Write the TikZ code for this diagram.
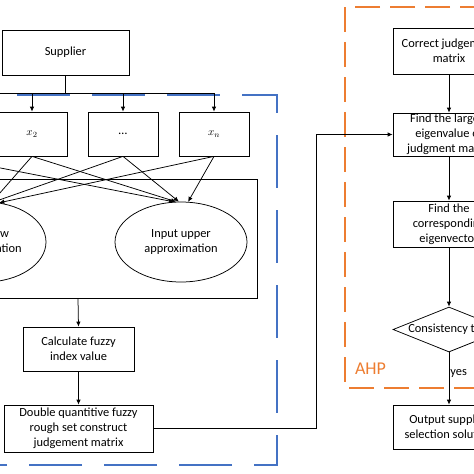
\documentclass[tikz,border=0pt]{standalone}
\usepackage{fontspec}
\setmainfont{Carlito}
\usetikzlibrary{shapes.geometric,arrows.meta}
\definecolor{ahporange}{RGB}{237,125,49}
\definecolor{frsblue}{RGB}{68,114,196}
\begin{document}
\begin{tikzpicture}[x=1pt,y=-1pt,line width=0.75pt,
  >={Latex[length=5pt,width=4.5pt]},
  every node/.style={font=\fontsize{12.4}{15}\selectfont},
  box/.style={draw,align=center,inner sep=0pt},
  xbox/.style={box,minimum width=70,minimum height=44,font=\fontsize{11}{13}\selectfont},
  approx/.style={ellipse,draw,align=center,inner sep=0pt,minimum width=132,minimum height=80},
  blueframe/.style={frsblue,line width=2.5pt,dash pattern=on 53pt off 22pt},
  ahpframe/.style={ahporange,line width=2.5pt,dash pattern=on 25pt off 10pt}]

\useasboundingbox (0,0) rectangle (474,474);
\clip (0,0) rectangle (474,474);

% frames
\draw [blueframe] (-58,95) -- (277,95) -- (277,465) -- (-58,465);
\draw [ahpframe] (520,7) -- (345,7) -- (345,388) -- (520,388);
\node (ahp)	at (370.5,369)	[text=ahporange,font=\fontsize{18}{20}\selectfont] {AHP};

% left column
\node (supplier)	at (65.5,52.5)	[box,minimum width=127,minimum height=45] {Supplier};
\node (xone)	at (-59,134)	[xbox] {};	% box left of the picture's edge
\node (xtwo)	at (32,134)	[xbox] {$x_2$};
\node (xdots)	at (123,134)	[xbox,font=\fontsize{12.4}{15}\selectfont] {…};
\node (xn)	at (214,134)	[xbox] {$x_n$};
\node (inputbox)	at (78,238.5)	[box,minimum width=358,minimum height=119] {};
\node (lowerapprox)	at (-15,242)	[approx,minimum width=122] {Input low\\approximation};
\node (upperapprox)	at (181,242)	[approx] {Input upper\\approximation};
\node (fuzzyindex)	at (78.5,349)	[box,minimum width=111,minimum height=44] {Calculate fuzzy\\index value};
\node (judgematrix)	at (78.5,428.5)	[box,minimum width=149,minimum height=47] {Double quantitive fuzzy\\rough set construct\\judgement matrix};

% right column
\node (correctmatrix)	at (449,51)	[box,minimum width=112,minimum height=46] {Correct judgement\\matrix};
\node (largesteig)	at (449,134.5)	[box,minimum width=112,minimum height=43] {Find the largest\\eigenvalue of\\judgment matrix};
\node (eigvec)	at (449,224)	[box,minimum width=112,minimum height=46] {Find the\\corresponding\\eigenvector};
\node (consistency)	at (449,329.5)	[diamond,draw,aspect=2.45,inner sep=0pt,minimum width=112,minimum height=45] {Consistency test};
\node (output)	at (449,427)	[box,minimum width=112,minimum height=44] {Output supplier\\selection solution};

\coordinate (split)	at (65.5,93);
\coordinate (turn)	at (316,0);

\draw (supplier.south) -- (split);
\draw (xone.north |- split) -- (xn.north |- split);
\foreach \x in {xone,xtwo,xdots,xn}
  \draw [->] (\x.north |- split) -- (\x.north);

\draw [->] (xone.south) to (upperapprox.100);
\draw [->] (xtwo.south) to (upperapprox.97);
\draw [->] (xdots.south) to (upperapprox.93);
\draw [->] (xn.south) to (upperapprox.80);
\draw [->] (xone.south) to (lowerapprox.100);
\draw [->] (xtwo.south) to (lowerapprox.80);
\draw [->] (xdots.south) to (lowerapprox.78);
\draw [->] (xn.south) to (lowerapprox.70);

\draw [->] (inputbox.south) -- (fuzzyindex.north);
\draw [->] (fuzzyindex) -- (judgematrix);
\draw [->] (judgematrix.east) -- (judgematrix.east -| turn) |- (largesteig.west);

\draw [->] (correctmatrix) -- (largesteig);
\draw [->] (largesteig) -- (eigvec);
\draw [->] (eigvec) -- (consistency);
\draw [->] (consistency) -- node[right,pos=0.4,inner sep=1pt]{yes} (output);

\end{tikzpicture}
\end{document}
